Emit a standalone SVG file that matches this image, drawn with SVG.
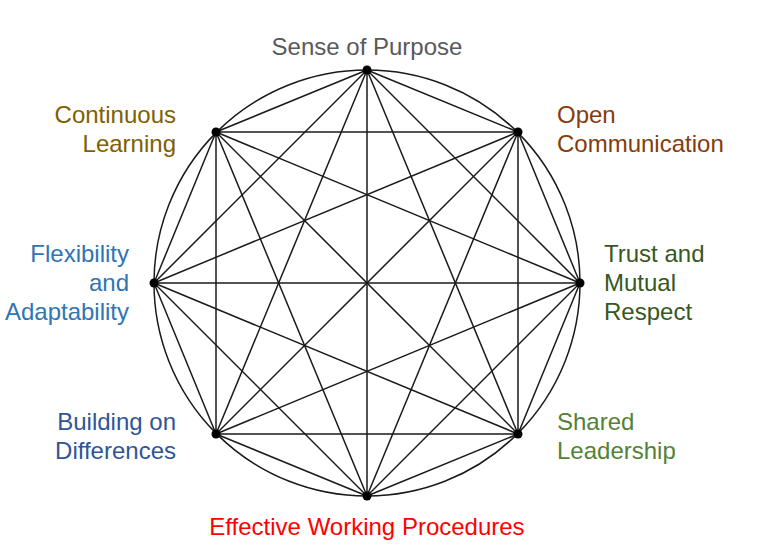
<svg xmlns="http://www.w3.org/2000/svg" width="768" height="554" viewBox="0 0 768 554">
<style>
.lbl{font-family:"Liberation Sans",Arial,sans-serif;font-size:24px}
.e{stroke:#1a1a1a;stroke-width:1.5;fill:none}
.dot{fill:#000}
</style>
<rect width="768" height="554" fill="#fff"/>
<circle cx="367" cy="283" r="213" class="e"/>
<g id="connectors" class="e">
<line x1="367" y1="70" x2="518" y2="132"/>
<line x1="367" y1="70" x2="580" y2="283"/>
<line x1="367" y1="70" x2="518" y2="434"/>
<line x1="367" y1="70" x2="367" y2="496"/>
<line x1="367" y1="70" x2="216" y2="434"/>
<line x1="367" y1="70" x2="154" y2="283"/>
<line x1="367" y1="70" x2="216" y2="132"/>
<line x1="518" y1="132" x2="580" y2="283"/>
<line x1="518" y1="132" x2="518" y2="434"/>
<line x1="518" y1="132" x2="367" y2="496"/>
<line x1="518" y1="132" x2="216" y2="434"/>
<line x1="518" y1="132" x2="154" y2="283"/>
<line x1="518" y1="132" x2="216" y2="132"/>
<line x1="580" y1="283" x2="518" y2="434"/>
<line x1="580" y1="283" x2="367" y2="496"/>
<line x1="580" y1="283" x2="216" y2="434"/>
<line x1="580" y1="283" x2="154" y2="283"/>
<line x1="580" y1="283" x2="216" y2="132"/>
<line x1="518" y1="434" x2="367" y2="496"/>
<line x1="518" y1="434" x2="216" y2="434"/>
<line x1="518" y1="434" x2="154" y2="283"/>
<line x1="518" y1="434" x2="216" y2="132"/>
<line x1="367" y1="496" x2="216" y2="434"/>
<line x1="367" y1="496" x2="154" y2="283"/>
<line x1="367" y1="496" x2="216" y2="132"/>
<line x1="216" y1="434" x2="154" y2="283"/>
<line x1="216" y1="434" x2="216" y2="132"/>
<line x1="154" y1="283" x2="216" y2="132"/>
</g>
<g id="purpose"><circle cx="367" cy="70" r="4.5" class="dot"/><text class="lbl" x="367" y="55" text-anchor="middle" fill="#595959">Sense of Purpose</text></g>
<g id="communication"><circle cx="518" cy="132" r="4.5" class="dot"/><text class="lbl" x="557" y="123" fill="#843C0C">Open</text><text class="lbl" x="557" y="152" fill="#843C0C">Communication</text></g>
<g id="trust"><circle cx="580" cy="283" r="4.5" class="dot"/><text class="lbl" x="604" y="262" fill="#385723">Trust and</text><text class="lbl" x="604" y="291" fill="#385723">Mutual</text><text class="lbl" x="604" y="320" fill="#385723">Respect</text></g>
<g id="leadership"><circle cx="518" cy="434" r="4.5" class="dot"/><text class="lbl" x="557" y="430" fill="#548235">Shared</text><text class="lbl" x="557" y="459" fill="#548235">Leadership</text></g>
<g id="procedures"><circle cx="367" cy="496" r="4.5" class="dot"/><text class="lbl" x="367" y="535" text-anchor="middle" fill="#FF0000">Effective Working Procedures</text></g>
<g id="differences"><circle cx="216" cy="434" r="4.5" class="dot"/><text class="lbl" x="176" y="430" text-anchor="end" fill="#2F5597">Building on</text><text class="lbl" x="176" y="459" text-anchor="end" fill="#2F5597">Differences</text></g>
<g id="flexibility"><circle cx="154" cy="283" r="4.5" class="dot"/><text class="lbl" x="129" y="262" text-anchor="end" fill="#2E75B6">Flexibility</text><text class="lbl" x="129" y="291" text-anchor="end" fill="#2E75B6">and</text><text class="lbl" x="129" y="320" text-anchor="end" fill="#2E75B6">Adaptability</text></g>
<g id="learning"><circle cx="216" cy="132" r="4.5" class="dot"/><text class="lbl" x="176" y="123" text-anchor="end" fill="#7F6000">Continuous</text><text class="lbl" x="176" y="152" text-anchor="end" fill="#7F6000">Learning</text></g>
</svg>
